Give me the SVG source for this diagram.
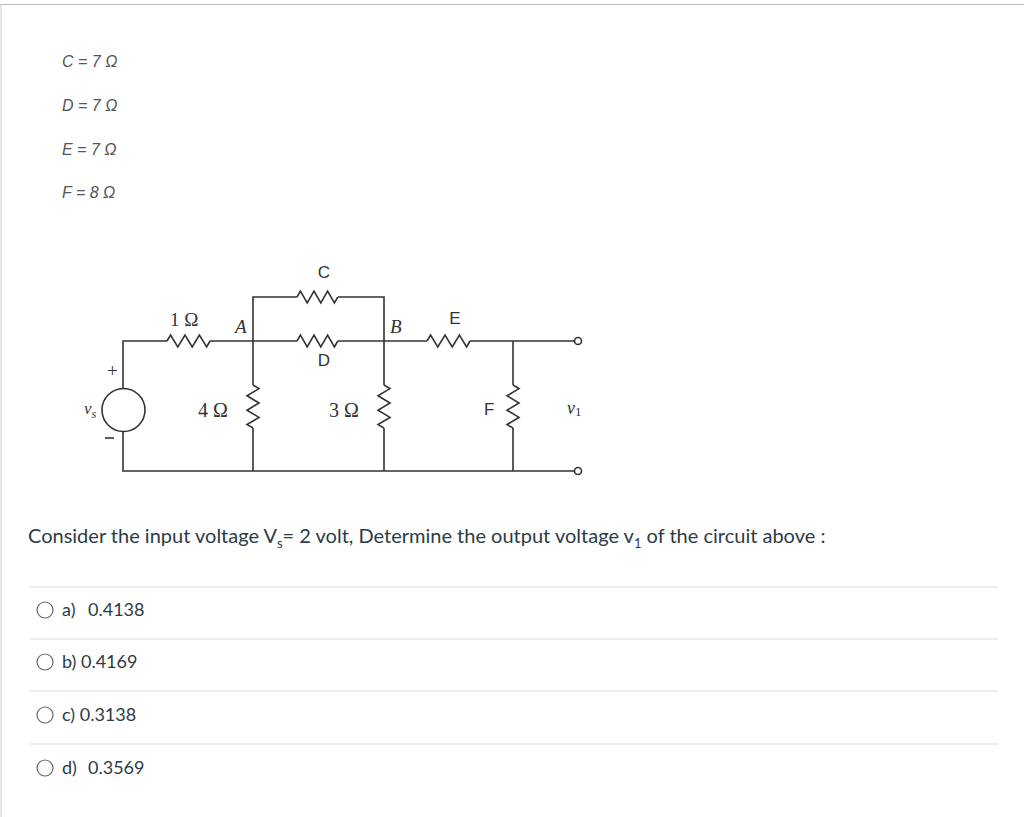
<svg xmlns="http://www.w3.org/2000/svg" width="1024" height="817" viewBox="0 0 1024 817">
<style>
.w{stroke:#333;stroke-width:1.6;fill:none}
.t{font-family:"Liberation Serif",serif;fill:#333}
.s{font-family:"Liberation Sans",sans-serif;fill:#333}
.g{font-family:Lato,"Liberation Sans",sans-serif;fill:#2d3b45}
.sep{stroke:#ddd;stroke-width:1}
.rad{fill:#fff;stroke:#666;stroke-width:1.2}
</style>
<rect width="1024" height="817" fill="#fff"/>
<line x1="0" y1="4.5" x2="1024" y2="4.5" stroke="#bbb"/>
<line x1="1" y1="4" x2="1" y2="817" stroke="#ccc"/>
<g id="values" font-size="16" font-family="Liberation Sans,sans-serif" font-style="italic" fill="#555">
<text x="62" y="67">C = 7 Ω</text>
<text x="62" y="111">D = 7 Ω</text>
<text x="62" y="155">E = 7 Ω</text>
<text x="62" y="198">F = 8 Ω</text>
</g>
<g id="connectors">
<path class="w" d="M123 388 V341 H167 M210 341 H297 M338 341 H427 M470 341 H575"/>
<path class="w" d="M253 341 V297 H297 M338 297 H384 V341"/>
<path class="w" d="M123 432 V471 H575"/>
<path class="w" d="M253 341 V385 M253 428 V471 M384 341 V385 M384 428 V471 M513 341 V385 M513 428 V471"/>
</g>
<g id="R1"><path class="w" d="M167 341 l3.6 -6 l7.2 12 l7.2 -12 l7.2 12 l7.2 -12 l7.2 12 l3.4 -6"/><text class="t" x="170" y="326" font-size="19">1 Ω</text></g>
<g id="RC"><path class="w" d="M297 297 l3.4 -6 l6.8 12 l6.8 -12 l6.8 12 l6.8 -12 l6.8 12 l3.4 -6"/><text class="s" x="324" y="278" font-size="17" text-anchor="middle">C</text></g>
<g id="RD"><path class="w" d="M297 341 l3.4 -6 l6.8 12 l6.8 -12 l6.8 12 l6.8 -12 l6.8 12 l3.4 -6"/><text class="s" x="324" y="366" font-size="17" text-anchor="middle">D</text></g>
<g id="RE"><path class="w" d="M427 341 l3.6 -6 l7.2 12 l7.2 -12 l7.2 12 l7.2 -12 l7.2 12 l3.4 -6"/><text class="s" x="455" y="324" font-size="17" text-anchor="middle">E</text></g>
<g id="R4"><path class="w" d="M253 385 l6 3.6 l-12 7.2 l12 7.2 l-12 7.2 l12 7.2 l-12 7.2 l6 3.4"/><text class="t" x="198" y="417" font-size="20">4 Ω</text></g>
<g id="R3"><path class="w" d="M384 385 l6 3.6 l-12 7.2 l12 7.2 l-12 7.2 l12 7.2 l-12 7.2 l6 3.4"/><text class="t" x="329" y="417" font-size="20">3 Ω</text></g>
<g id="RF"><path class="w" d="M513 385 l6 3.6 l-12 7.2 l12 7.2 l-12 7.2 l12 7.2 l-12 7.2 l6 3.4"/><text class="s" x="484" y="415" font-size="17">F</text></g>
<g id="nodes"><text class="t" x="235" y="333" font-size="19" font-style="italic">A</text><text class="t" x="390" y="333" font-size="19" font-style="italic">B</text></g>
<g id="source"><circle class="w" cx="123.5" cy="410" r="21.5"/><text class="t" x="107" y="377" font-size="19">+</text><line class="w" x1="105" y1="438" x2="114" y2="438"/><text class="t" x="84" y="414" font-size="17" font-style="italic">v<tspan font-size="12" dy="4">s</tspan></text></g>
<g id="terminals"><circle class="w" cx="578" cy="341" r="3.5" fill="#fff"/><circle class="w" cx="578" cy="471" r="3.5" fill="#fff"/><text class="t" x="567" y="414" font-size="18" font-style="italic">v<tspan font-size="13" font-style="normal" dy="2">1</tspan></text></g>
<text class="g" x="28" y="543" font-size="20">Consider the input voltage V<tspan font-size="13" dy="5">s</tspan><tspan dy="-5">= 2 volt, Determine the output voltage v</tspan><tspan font-size="13" dy="5">1</tspan><tspan dy="-5"> of the circuit above :</tspan></text>
<g id="options" class="g" font-size="18">
<line class="sep" x1="30" y1="587" x2="998" y2="587"/>
<circle class="rad" cx="45" cy="610" r="8"/><text class="g" x="62" y="616">a)</text><text class="g" x="88" y="616">0.4138</text>
<line class="sep" x1="30" y1="639" x2="998" y2="639"/>
<circle class="rad" cx="45" cy="662" r="8"/><text class="g" x="62" y="668">b) 0.4169</text>
<line class="sep" x1="30" y1="691" x2="998" y2="691"/>
<circle class="rad" cx="45" cy="715" r="8"/><text class="g" x="62" y="721">c) 0.3138</text>
<line class="sep" x1="30" y1="744" x2="998" y2="744"/>
<circle class="rad" cx="45" cy="768" r="8"/><text class="g" x="62" y="774">d)</text><text class="g" x="88" y="774">0.3569</text>
</g>
</svg>
